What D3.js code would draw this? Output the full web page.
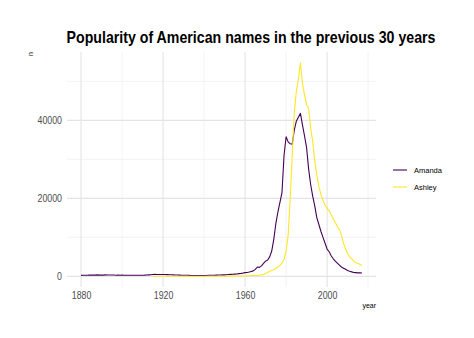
<!DOCTYPE html>
<html>
<head>
<meta charset="utf-8">
<script src="https://cdn.jsdelivr.net/npm/d3@7"></script>
<style>
  body { margin: 0; background: #fff; }
  svg text { font-family: "Liberation Sans", Arial, sans-serif; }
</style>
</head>
<body>
<svg id="chart" width="474" height="338"></svg>
<script>
// babynames: female counts per year
var amandaStart = 1880;
var amanda = [
  241, 263, 288, 287, 325, 322, 339, 306, 367, 324,
  338, 319, 369, 327, 338, 335, 329, 294, 319, 275,
  331, 283, 293, 285, 296, 281, 269, 272, 282, 264,
  301, 316, 360, 390, 420, 470, 500, 480, 490, 470,
  480, 460, 440, 420, 400, 380, 360, 340, 320, 300,
  290, 272, 263, 240, 231, 219, 208, 201, 210, 205,
  220, 232, 265, 276, 268, 265, 322, 362, 346, 380,
  389, 417, 458, 500, 532, 571, 621, 700, 760, 838,
  950, 1000, 1100, 1250, 1400, 1800, 2400, 2300, 2700, 3300,
  3900, 4200, 5000, 6500, 9500, 13500, 16500, 19000, 21500, 31000,
  35800, 34500, 34000, 33900, 37500, 39800, 40800, 41800, 38800, 36000,
  33000, 27500, 23500, 20500, 18000, 15000, 13300, 11500, 10000, 8500,
  7000, 6300, 5300, 4500, 3900, 3400, 2900, 2400, 2100, 1800,
  1500, 1300, 1150, 1000, 950, 900, 880, 850
];

var ashleyStart = 1915;
var ashley = [
  8, 10, 12, 10, 14,
  15, 18, 14, 16, 12, 15, 13, 11, 10, 12,
  10, 11, 9, 12, 10, 13, 11, 12, 14, 15,
  13, 16, 18, 20, 17, 22, 25, 28, 30, 33,
  40, 45, 52, 60, 65, 70, 75, 80, 85, 90,
  100, 120, 150, 170, 190, 200, 240, 300, 400, 500,
  700, 1000, 1300, 1500, 1700, 2000, 2400, 2800, 3400, 4300,
  6500, 10500, 20000, 31000, 42000, 47500, 50500, 54800, 49500, 46500,
  44000, 43000, 38000, 34500, 29500, 26000, 23000, 21000, 19500, 18200,
  17500, 16800, 15800, 14800, 13800, 12800, 12000, 10500, 8500, 7000,
  5800, 5000, 4500, 3900, 3500, 3300, 3100, 2800
];

var seriesNames = ["Amanda", "Ashley"];
var seriesColors = ["#440154", "#FDE725"];
var xMajor = [1880, 1920, 1960, 2000];
var xMinor = [1900, 1940, 1980, 2020];
var yMajor = [0, 20000, 40000];
var yMinor = [10000, 30000, 50000];

function toPoints(start, vals) {
    return vals.map(function(v, i) { return { year: start + i, n: v }; });
}
var series = [
    { name: seriesNames[0], values: toPoints(amandaStart, amanda) },
    { name: seriesNames[1], values: toPoints(ashleyStart, ashley) }
];

var svg = d3.select("#chart");
var panel = { left: 67, right: 376, top: 52, bottom: 287 };

var allPts = series[0].values.concat(series[1].values);
var xExt = d3.extent(allPts, function(d) { return d.year; });
var yExt = d3.extent(allPts, function(d) { return d.n; });
var xPad = (xExt[1] - xExt[0]) * 0.05;
var yPad = (yExt[1] - yExt[0]) * 0.05;

var x = d3.scaleLinear()
    .domain([xExt[0] - xPad, xExt[1] + xPad])
    .range([panel.left, panel.right]);
var y = d3.scaleLinear()
    .domain([yExt[0] - yPad, yExt[1] + yPad])
    .range([panel.bottom, panel.top]);

var color = d3.scaleOrdinal().domain(seriesNames).range(seriesColors);

// grid
var grid = svg.append("g");
grid.selectAll(".ymin").data(yMinor).enter().append("line")
    .attr("x1", panel.left).attr("x2", panel.right)
    .attr("y1", function(d) { return y(d); }).attr("y2", function(d) { return y(d); })
    .attr("stroke", "#ebebeb").attr("stroke-width", 0.6);
grid.selectAll(".xmin").data(xMinor).enter().append("line")
    .attr("y1", panel.top).attr("y2", panel.bottom)
    .attr("x1", function(d) { return x(d); }).attr("x2", function(d) { return x(d); })
    .attr("stroke", "#ebebeb").attr("stroke-width", 0.6);
grid.selectAll(".ymaj").data(yMajor).enter().append("line")
    .attr("x1", panel.left).attr("x2", panel.right)
    .attr("y1", function(d) { return y(d); }).attr("y2", function(d) { return y(d); })
    .attr("stroke", "#e4e4e4").attr("stroke-width", 1.1);
grid.selectAll(".xmaj").data(xMajor).enter().append("line")
    .attr("y1", panel.top).attr("y2", panel.bottom)
    .attr("x1", function(d) { return x(d); }).attr("x2", function(d) { return x(d); })
    .attr("stroke", "#e4e4e4").attr("stroke-width", 1.1);

// axes (labels only, theme_minimal style)
var xAxis = svg.append("g")
    .attr("transform", "translate(0," + (panel.bottom + 3) + ")")
    .call(d3.axisBottom(x).tickValues(xMajor).tickSize(0).tickPadding(2).tickFormat(d3.format("d")));
var yAxis = svg.append("g")
    .attr("transform", "translate(" + (panel.left - 3) + ",0)")
    .call(d3.axisLeft(y).tickValues(yMajor).tickSize(0).tickPadding(2).tickFormat(d3.format("d")));
[xAxis, yAxis].forEach(function(a) {
    a.select(".domain").remove();
    a.selectAll("text").attr("fill", "#4d4d4d").style("font-size", "10px")
        .style("font-family", "'Liberation Sans', Arial, sans-serif")
        .attr("textLength", function() { return this.textContent.length * 4.9; })
        .attr("lengthAdjust", "spacingAndGlyphs");
});

// lines
var line = d3.line()
    .x(function(d) { return x(d.year); })
    .y(function(d) { return y(d.n); });

svg.append("g").selectAll("path")
    .data(series)
    .enter().append("path")
    .attr("d", function(d) { return line(d.values); })
    .attr("fill", "none")
    .attr("stroke", function(d) { return color(d.name); })
    .attr("stroke-width", 1.1)
    .attr("stroke-linejoin", "round");

// title, squeezed horizontally to the reference width
var title = svg.append("text")
    .attr("text-anchor", "middle")
    .style("font-size", "16px").style("font-weight", "bold").attr("fill", "#000")
    .text("Popularity of American names in the previous 30 years");
var tw = title.node().getComputedTextLength();
title.attr("transform", "translate(251,43) scale(" + (369 / tw) + ",1)");

// axis titles
svg.append("text")
    .attr("transform", "translate(33," + panel.top + ") rotate(-90)")
    .attr("text-anchor", "end")
    .style("font-size", "7px").attr("fill", "#000")
    .text("n");
svg.append("text")
    .attr("x", panel.right).attr("y", 308)
    .attr("text-anchor", "end")
    .style("font-size", "7px").attr("fill", "#000")
    .text("year");

// legend
var legend = svg.append("g").selectAll("g")
    .data(seriesNames)
    .enter().append("g")
    .attr("transform", function(d, i) { return "translate(393," + (170 + i * 17) + ")"; });
legend.append("line")
    .attr("x1", 0).attr("x2", 14)
    .attr("stroke", function(d) { return color(d); })
    .attr("stroke-width", 1.1);
legend.append("text")
    .attr("x", 21).attr("dy", "0.35em")
    .style("font-size", "7.5px").attr("fill", "#000")
    .text(function(d) { return d; });
</script>
</body>
</html>
